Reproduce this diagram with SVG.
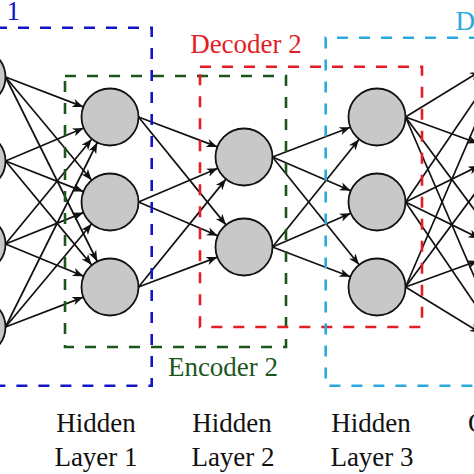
<svg xmlns="http://www.w3.org/2000/svg" width="474" height="474" viewBox="0 0 474 474">
<style>
.n{fill:#c8c8c8;stroke:#111;stroke-width:1.8}
.e{stroke:#111;stroke-width:1.7;fill:none;marker-end:url(#ah)}
.b{fill:none;stroke-width:2.6;stroke-dasharray:11 11}
.t{font-family:"Liberation Serif","Times New Roman",serif;font-size:27px}
.h{font-family:"Liberation Serif","Times New Roman",serif;font-size:27px;fill:#111;text-anchor:middle}
</style>
<defs>
<marker id="ah" markerUnits="userSpaceOnUse" markerWidth="14" markerHeight="12" viewBox="-12 -6 14 12" refX="0" refY="0" orient="auto">
<path d="M0,0 L-11,-4.2 L-8,0 L-11,4.2 Z" fill="#111"/>
</marker>
</defs>
<rect width="474" height="474" fill="#fff"/>
<g id="connectors">
<line class="e" x1="5.5" y1="77" x2="83.4" y2="106.9"/>
<line class="e" x1="5.5" y1="77" x2="91.7" y2="180.2"/>
<line class="e" x1="5.5" y1="77" x2="97.3" y2="261.5"/>
<line class="e" x1="5.5" y1="161" x2="83.7" y2="128"/>
<line class="e" x1="5.5" y1="161" x2="83.5" y2="191.6"/>
<line class="e" x1="5.5" y1="161" x2="91.8" y2="265.1"/>
<line class="e" x1="5.5" y1="244" x2="91.8" y2="139"/>
<line class="e" x1="5.5" y1="244" x2="83.5" y2="212.6"/>
<line class="e" x1="5.5" y1="244" x2="83.6" y2="276.2"/>
<line class="e" x1="5.5" y1="327" x2="97.3" y2="142.5"/>
<line class="e" x1="5.5" y1="327" x2="91.7" y2="223.8"/>
<line class="e" x1="5.5" y1="327" x2="83.4" y2="297.1"/>
<line class="e" x1="138.5" y1="117" x2="217.4" y2="146.9"/>
<line class="e" x1="138.5" y1="117" x2="226" y2="224.9"/>
<line class="e" x1="138.5" y1="202" x2="217.8" y2="168.2"/>
<line class="e" x1="138.5" y1="202" x2="217.8" y2="235.8"/>
<line class="e" x1="138.5" y1="287" x2="226" y2="179.1"/>
<line class="e" x1="138.5" y1="287" x2="217.4" y2="257.1"/>
<line class="e" x1="272.5" y1="157" x2="350.4" y2="127.2"/>
<line class="e" x1="272.5" y1="157" x2="350.8" y2="190.7"/>
<line class="e" x1="272.5" y1="157" x2="359.1" y2="264.8"/>
<line class="e" x1="272.5" y1="247" x2="359.1" y2="139.2"/>
<line class="e" x1="272.5" y1="247" x2="350.8" y2="213.3"/>
<line class="e" x1="272.5" y1="247" x2="350.4" y2="276.8"/>
<line class="e" x1="405.5" y1="117" x2="480.7" y2="70.9"/>
<line class="e" x1="405.5" y1="117" x2="478.2" y2="143.3"/>
<line class="e" x1="405.5" y1="117" x2="488" y2="228.1"/>
<line class="e" x1="405.5" y1="117" x2="493.7" y2="321.8"/>
<line class="e" x1="405.5" y1="202" x2="489" y2="79.6"/>
<line class="e" x1="405.5" y1="202" x2="479.4" y2="165.6"/>
<line class="e" x1="405.5" y1="202" x2="479.4" y2="238.4"/>
<line class="e" x1="405.5" y1="202" x2="489" y2="324.5"/>
<line class="e" x1="405.5" y1="287" x2="493.7" y2="82.2"/>
<line class="e" x1="405.5" y1="287" x2="488" y2="175.9"/>
<line class="e" x1="405.5" y1="287" x2="478.2" y2="260.7"/>
<line class="e" x1="405.5" y1="287" x2="480.7" y2="333.1"/>
</g>
<g id="boxes">
<polyline class="b" stroke="#1414c8" points="-4,27.7 151.7,27.7 151.7,385.7 -4,385.7"/>
<rect class="b" stroke="#1d561d" x="65" y="76" width="221" height="271"/>
<rect class="b" stroke="#e41c24" x="200" y="66.7" width="222" height="260.3"/>
<polyline class="b" stroke="#29a9e0" points="480,37.7 325.7,37.7 325.7,385.7 480,385.7"/>
</g>
<g id="input">
<circle class="n" cx="-23" cy="77" r="28.5"/>
<circle class="n" cx="-23" cy="161" r="28.5"/>
<circle class="n" cx="-23" cy="244" r="28.5"/>
<circle class="n" cx="-23" cy="327" r="28.5"/>
</g>
<g id="hidden1">
<circle class="n" cx="110" cy="117" r="28.5"/>
<circle class="n" cx="110" cy="202" r="28.5"/>
<circle class="n" cx="110" cy="287" r="28.5"/>
</g>
<g id="hidden2">
<circle class="n" cx="244" cy="157" r="28.5"/>
<circle class="n" cx="244" cy="247" r="28.5"/>
</g>
<g id="hidden3">
<circle class="n" cx="377" cy="117" r="28.5"/>
<circle class="n" cx="377" cy="202" r="28.5"/>
<circle class="n" cx="377" cy="287" r="28.5"/>
</g>
<g id="box-labels">
<text class="t" x="20" y="20" fill="#1414c8" text-anchor="end">Encoder 1</text>
<text class="t" x="246" y="53" fill="#e41c24" text-anchor="middle">Decoder 2</text>
<text class="t" x="223" y="376" fill="#1d561d" text-anchor="middle">Encoder 2</text>
<text class="t" x="455.5" y="30" fill="#29a9e0">Decoder 1</text>
</g>
<g id="layer-labels">
<text class="h" x="96" y="432">Hidden</text>
<text class="h" x="96" y="465.5">Layer 1</text>
<text class="h" x="232" y="432">Hidden</text>
<text class="h" x="233" y="465.5">Layer 2</text>
<text class="h" x="371" y="432">Hidden</text>
<text class="h" x="372" y="465.5">Layer 3</text>
<text class="t" x="468" y="432" fill="#111">Output</text>
</g>
</svg>
